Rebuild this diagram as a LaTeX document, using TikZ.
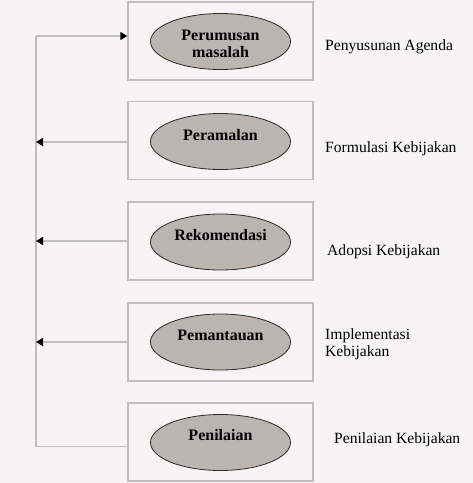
\documentclass[tikz,border=0pt]{standalone}
\usepackage{fontspec}
\setmainfont{Liberation Serif}
\usetikzlibrary{arrows.meta,shapes.geometric}
\definecolor{bg}{RGB}{246,244,244}
\definecolor{ln}{RGB}{192,190,188}
\definecolor{ellfill}{RGB}{186,181,177}
\definecolor{ellline}{RGB}{45,42,40}
\tikzset{
  stagebox/.style={draw=ln,line width=1.4pt,rectangle,minimum width=185pt,minimum height=78pt,inner sep=0pt},
  stageell/.style={draw=ellline,line width=0.8pt,fill=ellfill,ellipse,minimum width=140pt,minimum height=56pt,inner sep=0pt},
  etext/.style={font=\fontsize{16}{17}\selectfont\bfseries,anchor=base,align=center,inner sep=0pt},
  ltext/.style={font=\fontsize{15.6}{17.5}\selectfont,anchor=base west,align=left,inner sep=0pt},
  rail/.style={draw=ln,line width=1.5pt},
  arr/.style={rail,-{Triangle[length=7pt,width=8pt,black]}}
}
\begin{document}
\begin{tikzpicture}[x=1pt,y=-1pt]
\fill[bg] (0,0) rectangle (473,483);
\useasboundingbox (0,0) rectangle (473,483);
% boxes
\node[stagebox] (b1) at (220.5,41) {};
\node[stagebox] (b2) at (220.5,140.5) {};
\node[stagebox] (b3) at (220.5,241) {};
\node[stagebox] (b4) at (220.5,342) {};
\node[stagebox] (b5) at (220.5,442) {};
% ellipses
\node[stageell] (e1) at (220.5,41.5) {};
\node[stageell] (e2) at (220.5,141.5) {};
\node[stageell] (e3) at (220.5,242) {};
\node[stageell] (e4) at (220.5,342) {};
\node[stageell] (e5) at (220.5,442.5) {};
% ellipse texts
\node[etext] (t1) at (220.5,57) {Perumusan\\masalah};
\node[etext] (t2) at (220.5,140) {Peramalan};
\node[etext] (t3) at (220.5,240) {Rekomendasi};
\node[etext] (t4) at (220.5,340) {Pemantauan};
\node[etext] (t5) at (220.5,440) {Penilaian};
% labels
\node[ltext] (l1) at (325,50) {Penyusunan Agenda};
\node[ltext] (l2) at (325,152) {Formulasi Kebijakan};
\node[ltext] (l3) at (327,255) {Adopsi Kebijakan};
\node[ltext] (l4) at (325,356.5) {Implementasi\\Kebijakan};
\node[ltext] (l5) at (334,443) {Penilaian Kebijakan};
% rail
\coordinate (r1) at (36,36);
\coordinate (r2) at (36,142);
\coordinate (r3) at (36,241);
\coordinate (r4) at (36,342);
\coordinate (r5) at (36,446.5);
\draw[rail] (r1) -- (r5);
\draw[arr] (r1) -- (r1 -| b1.west);
\draw[arr] (r2 -| b2.west) -- (r2);
\draw[arr] (r3 -| b3.west) -- (r3);
\draw[arr] (r4 -| b4.west) -- (r4);
\draw[rail] (r5 -| b5.west) -- (r5);
\end{tikzpicture}
\end{document}
